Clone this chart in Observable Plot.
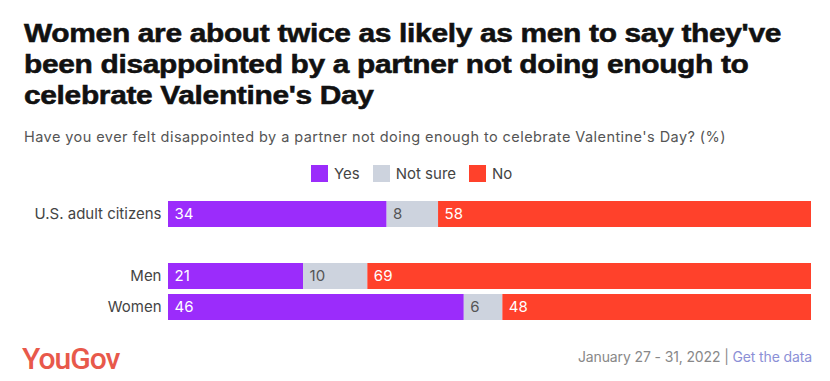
<!DOCTYPE html>
<html>
<head>
<meta charset="utf-8">
<script src="https://cdn.jsdelivr.net/npm/d3@7"></script>
<script src="https://cdn.jsdelivr.net/npm/@observablehq/plot@0.6"></script>
<style>
  html, body { margin: 0; padding: 0; background: #fff; }
  body { width: 830px; height: 381px; position: relative; overflow: hidden; font-family: Inter, "Noto Sans", sans-serif; }
  .abs { position: absolute; white-space: nowrap; }
  .title { font-family: "Liberation Sans", Arial, sans-serif; font-weight: 700; font-size: 26.5px; color: #111; line-height: 31px; margin: 0; -webkit-text-stroke: 0.55px #111; letter-spacing: -0.3px; transform-origin: 0 50%; }
  .sub { font-size: 14.5px; color: #555; }
  .legend { font-size: 15px; color: #444; display: flex; align-items: center; }
  .legend .sw { width: 17px; height: 17px; display: inline-block; margin-right: 6px; }
  .legend .it { display: flex; align-items: center; margin-right: 13px; }
  .logo { font-size: 24px; color: #e8594b; letter-spacing: -1px; font-weight: 500; font-family: "Liberation Sans Narrow", Roboto, sans-serif; }
  .foot { font-size: 14px; color: #888; }
  .foot span { color: #8b8fd6; }
  #chart { position: absolute; left: 0; top: 180px; }
</style>
</head>
<body>
<div class="abs title" id="t1" style="left:24px; top:18px;">Women are about twice as likely as men to say they've</div>
<div class="abs title" id="t2" style="left:24px; top:49px;">been disappointed by a partner not doing enough to</div>
<div class="abs title" id="t3" style="left:24px; top:80px;">celebrate Valentine's Day</div>
<div class="abs sub" id="sub" style="left:24px; top:128px;">Have you ever felt disappointed by a partner not doing enough to celebrate Valentine's Day? (%)</div>
<div class="abs legend" id="legend" style="left:311px; top:164px;"></div>
<div id="chart"></div>
<div class="abs logo" id="logo" style="left:22px; top:341px;">YouGov</div>
<div class="abs foot" id="foot" style="right:18px; top:348px;">January 27 - 31, 2022 | <span>Get the data</span></div>
<script>
const groups = ["U.S. adult citizens", " ", "Men", "Women"];
const responses = ["Yes", "Not sure", "No"];
const colors = ["#9b2cfb", "#cdd3de", "#ff412b"];
const yes = [34, 21, 46];
const notSure = [8, 10, 6];
const no = [58, 69, 48];
const rowGroups = ["U.S. adult citizens", "Men", "Women"];

const data = [];
rowGroups.forEach((g, i) => {
  data.push({group: g, response: "Yes", value: yes[i]});
  data.push({group: g, response: "Not sure", value: notSure[i]});
  data.push({group: g, response: "No", value: no[i]});
});

// legend
const leg = document.getElementById("legend");
responses.forEach((r, i) => {
  const it = document.createElement("div");
  it.className = "it";
  it.innerHTML = `<span class="sw" style="background:${colors[i]}"></span>${r}`;
  leg.appendChild(it);
});

const plot = Plot.plot({
  width: 830,
  height: 151,
  marginLeft: 168,
  marginRight: 19,
  marginTop: 15,
  marginBottom: 5,
  style: {fontFamily: "Inter, 'Noto Sans', sans-serif", fontSize: "15px", color: "#444"},
  x: {domain: [0, 100], axis: null},
  y: {domain: groups, padding: 0.17, label: null},
  color: {domain: responses, range: colors},
  marks: [
    Plot.barX(data, Plot.stackX({x: "value", y: "group", fill: "response", order: responses})),
    Plot.axisY({tickSize: 0, tickPadding: 7, fontSize: 15, label: null, tickFormat: d => d.trim() === "" ? "" : d}),
    Plot.text(data, Plot.stackX1({
      x: "value", y: "group", z: "response", order: responses,
      text: d => String(d.value),
      textAnchor: "start", dx: 6,
      fill: d => d.response === "Not sure" ? "#555" : "#fff",
      fontWeight: d => d.response === "Not sure" ? 400 : 600,
      fontSize: 15
    }))
  ]
});
document.getElementById("chart").appendChild(plot);

function fitFont(el, measureEl, target) {
  const w = measureEl.getBoundingClientRect().width;
  const fs = parseFloat(getComputedStyle(el).fontSize) * target / w;
  el.style.fontSize = fs + "px";
}
function fit(id, target) {
  const el = document.getElementById(id);
  const w = el.getBoundingClientRect().width;
  const n = el.textContent.length;
  el.style.letterSpacing = (parseFloat(getComputedStyle(el).letterSpacing) || 0) + (target - w) / n + "px";
}
// same horizontal scale for all three title lines, fitted on the first
(function () {
  const el = document.getElementById("t1");
  const w = el.getBoundingClientRect().width;
  const s = 757 / w;
  ["t1", "t2", "t3"].forEach(id => document.getElementById(id).style.transform = `scaleX(${s})`);
})();
fit("sub", 702);
fit("foot", 234);
fitFont(document.getElementById("logo"), document.getElementById("logo"), 96);
</script>
</body>
</html>
